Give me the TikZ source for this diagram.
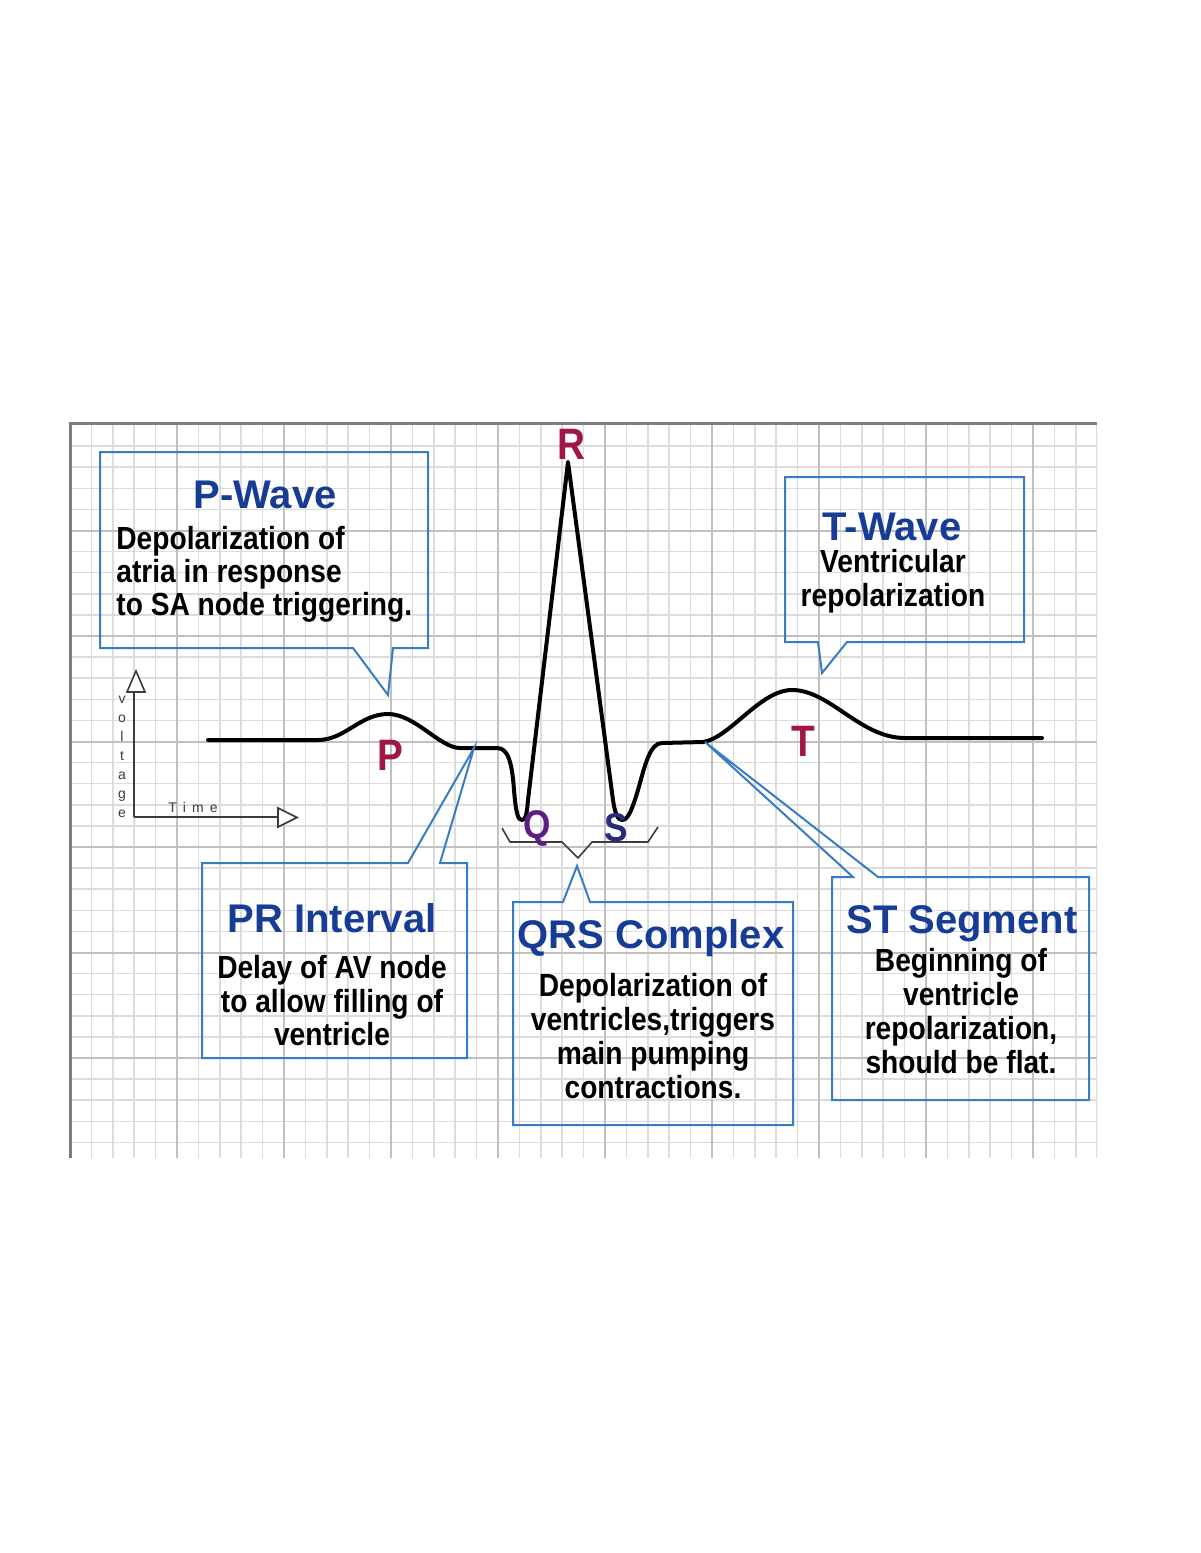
\documentclass[tikz,border=0pt]{standalone}
\usepackage{fontspec}
\setmainfont{Liberation Sans}
\newfontfamily\narrowfont[FakeStretch=0.88]{Liberation Sans}
\definecolor{titleblue}{RGB}{22,60,150}
\definecolor{boxblue}{RGB}{55,125,195}
\definecolor{wavelbl}{RGB}{160,22,72}
\definecolor{qcol}{RGB}{92,30,132}
\definecolor{scol}{RGB}{40,42,122}
\definecolor{gridminor}{RGB}{220,220,220}
\definecolor{gridmajor}{RGB}{192,192,192}
\definecolor{gridborder}{RGB}{125,125,125}
\definecolor{axisgray}{RGB}{60,60,60}
\begin{document}
\begin{tikzpicture}[x=0.5pt,y=-0.5pt,
  titletext/.style={font=\fontsize{20}{24}\selectfont\bfseries, text=titleblue, inner sep=0pt, anchor=base},
  bodytext/.style={font=\narrowfont\fontsize{16}{19}\selectfont\bfseries, text=black, inner sep=0pt, anchor=base},
  bodyleft/.style={bodytext, anchor=base west},
  callout/.style={draw=boxblue, line width=1pt, line join=miter},
  wave/.style={draw=black, line width=2pt, line join=round, line cap=round},
  wavelabel/.style={font=\narrowfont\fontsize{22}{26}\selectfont\bfseries, text=wavelbl, inner sep=0pt},
  qslabel/.style={font=\narrowfont\fontsize{20}{24}\selectfont\bfseries, inner sep=0pt},
  minorline/.style={draw=gridminor, line width=0.75pt},
  majorline/.style={draw=gridmajor, line width=1pt},
  axisline/.style={draw=axisgray, line width=0.8pt},
  axistext/.style={font=\fontsize{7}{9.5}\selectfont, text=axisgray, inner sep=0pt}
]
\useasboundingbox (0,0) rectangle (1200,1553);
\fill[white] (0,0) rectangle (1200,1553);

% ---------- grid ----------
\begin{scope}
\clip (70,423) rectangle (1097,1158);
\foreach \i in {1,...,48} {
  \pgfmathsetmacro\xx{70+\i*21.4}
  \draw[minorline] (\xx,423) -- (\xx,1158);
}
\foreach \j in {1,...,34} {
  \pgfmathsetmacro\yy{425+\j*21.1}
  \draw[minorline] (70,\yy) -- (1097,\yy);
}
\foreach \i in {5,10,...,45} {
  \pgfmathsetmacro\xx{70+\i*21.4}
  \draw[majorline] (\xx,423) -- (\xx,1158);
}
\foreach \j in {5,10,...,30} {
  \pgfmathsetmacro\yy{425+\j*21.1}
  \draw[majorline] (70,\yy) -- (1097,\yy);
}
\end{scope}
\draw[draw=gridborder, line width=1.5pt] (70,1158) -- (70,423) -- (1097,423);

% ---------- axes ----------
\coordinate (origin) at (134,817);
\coordinate (vtop) at (134,692);
\coordinate (hend) at (278,817);
\draw[axisline] (origin) -- (vtop);
\draw[axisline] (origin) -- (hend);
\draw[axisline, fill=white] (127,692) -- (136,671) -- (145,692) -- cycle;
\draw[axisline, fill=white] (278,808) -- (297,817.5) -- (278,827) -- cycle;
\node[axistext, anchor=base] (timelbl) at (193,812) {T\hspace{3pt}i\hspace{3pt}m\hspace{3pt}e};
\node[axistext, align=center] (voltlbl) at (122,757) {v\\o\\l\\t\\a\\g\\e};

% ---------- ECG trace ----------
\draw[wave] (208,740) -- (318,740)
  .. controls (345,740) and (360,714) .. (388,714)
  .. controls (415,714) and (440,748) .. (460,748)
  -- (497,748)
  .. controls (508,748) and (512,762) .. (514,790)
  .. controls (516,814) and (518,820) .. (522,820)
  .. controls (526,820) and (527,812) .. (528,800)
  -- (568,462)
  -- (613,800)
  .. controls (615,814) and (618,820) .. (622,820)
  .. controls (628,820) and (632,810) .. (638,790)
  .. controls (645,765) and (650,743) .. (662,743)
  -- (703,742)
  .. controls (730,738) and (760,690) .. (792,690)
  .. controls (830,690) and (860,738) .. (905,738)
  -- (1042,738);

% QRS brace
\coordinate (braceL) at (502,828);
\coordinate (braceTip) at (578,858);
\coordinate (braceR) at (658,827);
\draw[draw=axisgray, line width=0.8pt, line join=round] (braceL) -- (510,842) -- (562,842) -- (braceTip) -- (592,842) -- (648,842) -- (braceR);

% wave letters
\node[wavelabel] (Rlbl) at (571,444) {R};
\node[wavelabel] (Plbl) at (390.5,755) {P};
\node[wavelabel] (Tlbl) at (803.5,741) {T};
\node[qslabel, text=qcol] (Qlbl) at (537,828) {Q};
\node[qslabel, text=scol] (Slbl) at (616.5,828) {S};

% ---------- callouts ----------
% P-Wave
\coordinate (ptip) at (388,695);
\draw[callout] (100,452) -- (428,452) -- (428,648) -- (393,648) -- (ptip) -- (353,648) -- (100,648) -- cycle;
\node[titletext] (ptitle) at (265,508) {P-Wave};
\node[bodyleft] (pb1) at (116,549) {Depolarization of};
\node[bodyleft] (pb2) at (116,582) {atria in response};
\node[bodyleft] (pb3) at (116,615) {to SA node triggering.};

% T-Wave
\coordinate (ttip) at (822,673);
\draw[callout] (785,477) -- (1024,477) -- (1024,642) -- (847,642) -- (ttip) -- (818,642) -- (785,642) -- cycle;
\node[titletext] (ttitle) at (892,540) {T-Wave};
\node[bodytext] (tb1) at (893,572) {Ventricular};
\node[bodytext] (tb2) at (893,606) {repolarization};

% PR Interval
\coordinate (prtip) at (474,748);
\draw[callout] (202,863) -- (408,863) -- (prtip) -- (440,863) -- (467,863) -- (467,1058) -- (202,1058) -- cycle;
\node[titletext] (prtitle) at (332,932) {PR Interval};
\node[bodytext] (prb1) at (332,978) {Delay of AV node};
\node[bodytext] (prb2) at (332,1012) {to allow filling of};
\node[bodytext] (prb3) at (332,1045) {ventricle};

% QRS Complex
\draw[callout] (513,902) -- (563,902) -- (577,866) -- (590,902) -- (793,902) -- (793,1125) -- (513,1125) -- cycle;
\node[titletext] (qrstitle) at (651,948) {QRS Complex};
\node[bodytext] (qrsb1) at (653,996) {Depolarization of};
\node[bodytext] (qrsb2) at (653,1030) {ventricles,triggers};
\node[bodytext] (qrsb3) at (653,1064) {main pumping};
\node[bodytext] (qrsb4) at (653,1098) {contractions.};

% ST Segment
\coordinate (sttip) at (705,742);
\draw[callout] (832,877) -- (853,877) -- (sttip) -- (878,877) -- (1089,877) -- (1089,1100) -- (832,1100) -- cycle;
\node[titletext] (sttitle) at (962,933) {ST Segment};
\node[bodytext] (stb1) at (961,971) {Beginning of};
\node[bodytext] (stb2) at (961,1005) {ventricle};
\node[bodytext] (stb3) at (961,1039) {repolarization,};
\node[bodytext] (stb4) at (961,1073) {should be flat.};
\end{tikzpicture}
\end{document}
